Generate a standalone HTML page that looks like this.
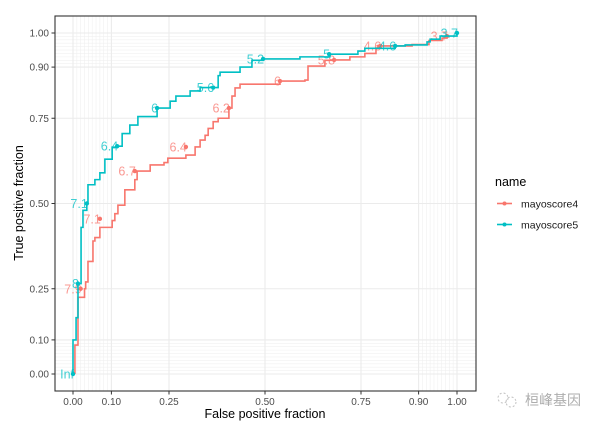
<!DOCTYPE html>
<html><head><meta charset="utf-8">
<style>
body{margin:0;background:#fff;}
svg{display:block;font-family:"Liberation Sans","Noto Sans CJK SC",sans-serif;}
</style></head>
<body>
<svg id="chart" width="600" height="427" viewBox="0 0 600 427">
<rect x="0" y="0" width="600" height="427" fill="#fff"/>
<g id="grid"></g>
<g id="series"></g>
<rect x="55" y="16" width="421" height="375" fill="none" stroke="#333" stroke-width="1.1"/>
<g id="axes"></g>
<text x="265" y="418" font-size="12.5" text-anchor="middle" fill="#000">False positive fraction</text>
<text transform="translate(23,203) rotate(-90)" font-size="12.5" text-anchor="middle" fill="#000">True positive fraction</text>
<g>
<text x="495" y="186" font-size="12.5" fill="#000">name</text>
<g>
<line x1="497" y1="203.5" x2="512" y2="203.5" stroke="#F8766D" stroke-width="1.6"/><circle cx="504.5" cy="203.5" r="2" fill="#F8766D"/>
<text x="521" y="207.5" font-size="10.5" fill="#1a1a1a">mayoscore4</text></g>
<g>
<line x1="497" y1="224.5" x2="512" y2="224.5" stroke="#00BFC4" stroke-width="1.6"/><circle cx="504.5" cy="224.5" r="2" fill="#00BFC4"/>
<text x="521" y="228.5" font-size="10.5" fill="#1a1a1a">mayoscore5</text></g>
</g>
<g opacity="0.6">
<circle cx="503" cy="398" r="5" fill="none" stroke="#999" stroke-dasharray="2 2"/>
<circle cx="511" cy="402" r="5" fill="none" stroke="#999" stroke-dasharray="2 2"/>
<text x="525" y="405" font-size="14" fill="#777">桓峰基因</text>
</g>
</svg>
<script>
const xTicks=[0,0.1,0.25,0.5,0.75,0.9,1.0];
const xTickLabels=["0.00","0.10","0.25","0.50","0.75","0.90","1.00"];
const yTicks=[0,0.1,0.25,0.5,0.75,0.9,1.0];
const yTickLabels=["0.00","0.10","0.25","0.50","0.75","0.90","1.00"];
const seriesNames=["mayoscore4","mayoscore5"];
const fpr4=[0.005,0.005,0.013,0.03,0.033,0.039,0.052,0.057,0.070,0.102,0.109,0.117,0.135,0.135,0.161,0.167,0.201,0.237,0.247,0.294,0.318,0.331,0.344,0.352,0.365,0.378,0.406,0.414,0.422,0.435,0.539,0.604,0.612,0.656,0.680,0.721,0.760,0.789,0.794,0.883,0.927,0.961,0.974];
const tpr4=[0.0,0.085,0.225,0.25,0.27,0.33,0.39,0.40,0.43,0.45,0.47,0.495,0.525,0.54,0.57,0.595,0.613,0.62,0.633,0.642,0.666,0.686,0.70,0.72,0.74,0.75,0.78,0.815,0.839,0.85,0.859,0.862,0.903,0.92,0.921,0.93,0.94,0.956,0.962,0.966,0.978,0.985,0.991];
const fpr5=[0,0,0.008,0.013,0.021,0.026,0.036,0.039,0.057,0.070,0.083,0.102,0.115,0.128,0.148,0.169,0.219,0.253,0.268,0.305,0.331,0.365,0.378,0.383,0.435,0.466,0.495,0.591,0.669,0.742,0.760,0.839,0.865,0.922,0.930,0.956,1.0];
const tpr5=[0.0,0.1,0.165,0.265,0.43,0.48,0.50,0.555,0.57,0.59,0.63,0.665,0.668,0.705,0.73,0.755,0.78,0.80,0.815,0.83,0.84,0.84,0.875,0.885,0.90,0.92,0.924,0.93,0.938,0.947,0.955,0.962,0.965,0.974,0.982,0.991,1.0];
const labels4=["7.9","7.1","6.7","6.4","6.2","6","5.8","4.6","3.7"];
const labelFpr4=[0.02,0.07,0.161,0.294,0.406,0.539,0.68,0.80,0.974];
const labelTpr4=[0.25,0.455,0.595,0.666,0.78,0.859,0.921,0.962,0.991];
const labels5=["Inf","8","7.1","6.4","6","5.6","5.2","5","4.6","3.7"];
const labelFpr5=[0,0.013,0.036,0.115,0.219,0.365,0.495,0.667,0.839,1.0];
const labelTpr5=[0,0.265,0.50,0.668,0.78,0.84,0.924,0.938,0.962,1.0];

const X=v=>73+v*384, Y=v=>374-v*341;
const NS="http://www.w3.org/2000/svg";
function mk(tag,attrs,parent){const e=document.createElementNS(NS,tag);for(const k in attrs)e.setAttribute(k,attrs[k]);parent.appendChild(e);return e;}
const grid=document.getElementById('grid'),axes=document.getElementById('axes'),series=document.getElementById('series');
mk('rect',{x:55,y:16,width:421,height:375,fill:'#fff'},grid);
const minor=[];
for(let i=1;i<10;i++){minor.push(i/100);minor.push(0.9+i/100);}
minor.forEach(v=>{
  const l1=mk('line',{x1:X(v),x2:X(v),y1:16,y2:391,stroke:'#f0f0f0','stroke-width':0.6},grid);
  
  
  const l2=mk('line',{x1:55,x2:476,y1:Y(v),y2:Y(v),stroke:'#f0f0f0','stroke-width':0.6},grid);
  
  
});
xTicks.forEach((v,i)=>{
  const g=mk('line',{x1:X(v),x2:X(v),y1:16,y2:391,stroke:'#ebebeb','stroke-width':1.1},grid);
  
  
  mk('line',{x1:X(v),x2:X(v),y1:391,y2:394.5,stroke:'#333'},axes);
  const t=mk('text',{x:X(v),y:405,'font-size':10,'text-anchor':'middle',fill:'#4d4d4d'},axes);
  t.textContent=xTickLabels[i];
  
  
});
yTicks.forEach((v,i)=>{
  const g=mk('line',{x1:55,x2:476,y1:Y(v),y2:Y(v),stroke:'#ebebeb','stroke-width':1.1},grid);
  
  
  mk('line',{x1:51.5,x2:55,y1:Y(v),y2:Y(v),stroke:'#333'},axes);
  const t=mk('text',{x:49,y:Y(v)+3.5,'font-size':10,'text-anchor':'end',fill:'#4d4d4d'},axes);
  t.textContent=yTickLabels[i];
  
  
});
function stepPath(fx,ty){let d='M'+X(fx[0])+','+Y(ty[0]);for(let i=1;i<fx.length;i++){d+=' H'+X(fx[i])+' V'+Y(ty[i]);}return d;}
function drawSeries(fx,ty,lab,lx,ly,col,name){
  const p=mk('path',{d:stepPath(fx,ty),fill:'none',stroke:col,'stroke-width':1.6},series);
  
  
  lab.forEach((s,i)=>{
    const c=mk('circle',{cx:X(lx[i]),cy:Y(ly[i]),r:2.2,fill:col},series);
    
    
    const t=mk('text',{x:X(lx[i])+1,y:Y(ly[i])+4.5,'font-size':12.5,'text-anchor':'end',fill:col,'fill-opacity':0.75},series);
    t.textContent=s;
    
    
  });
}
drawSeries(fpr4,tpr4,labels4,labelFpr4,labelTpr4,'#F8766D',seriesNames[0]);
drawSeries(fpr5,tpr5,labels5,labelFpr5,labelTpr5,'#00BFC4',seriesNames[1]);
</script>
</body></html>
